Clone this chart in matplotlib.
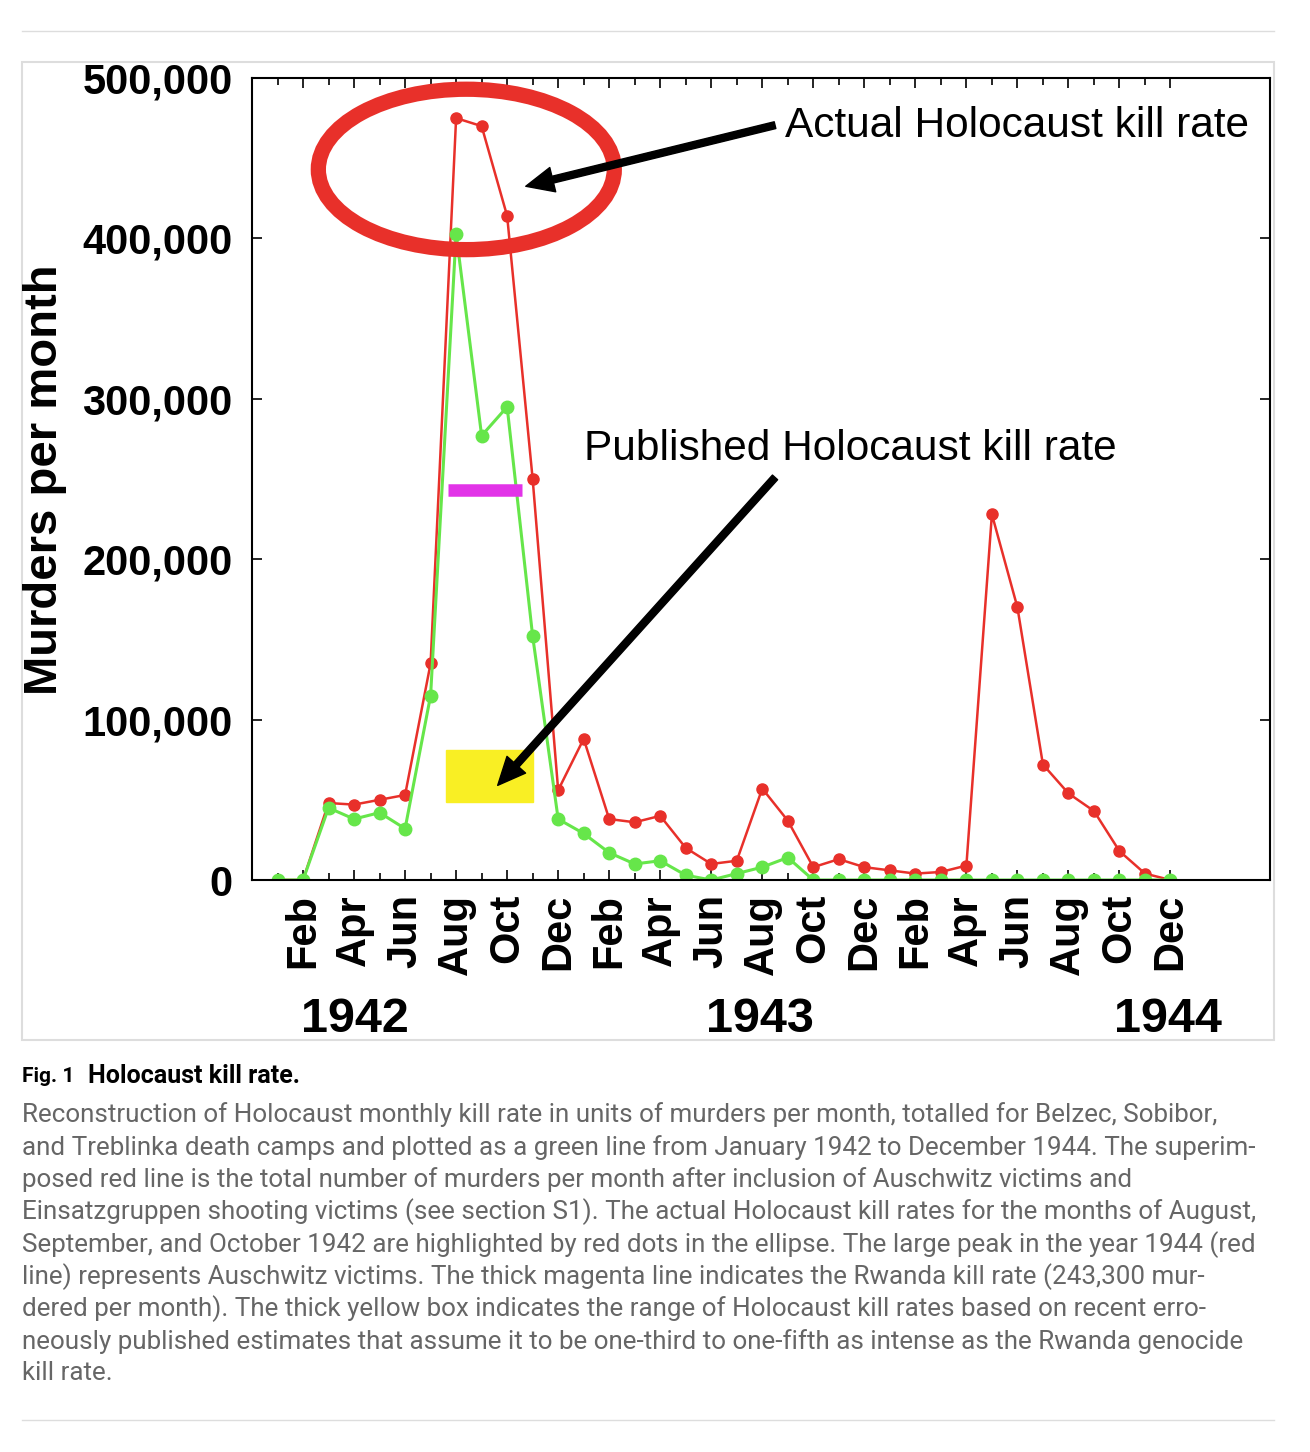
import matplotlib
matplotlib.use("Agg")
import matplotlib.pyplot as plt
from matplotlib.patches import Ellipse, Rectangle
import numpy as np

months = list(range(36))
green = [0,0,45000,38000,42000,32000,115000,403000,277000,295000,152000,38000,
         29000,17000,10000,12000,3000,0,4000,8000,14000,0,0,0,
         0,0,0,0,0,0,0,0,0,0,0,0]
red = [0,0,48000,47000,50000,53000,135000,475000,470000,414000,250000,56000,
       88000,38000,36000,40000,20000,10000,12000,57000,37000,8000,13000,8000,
       6000,4000,5000,9000,228000,170000,72000,54000,43000,18000,4000,0]
tick_idx = list(range(1,36,2))
tick_labels = ["Feb","Apr","Jun","Aug","Oct","Dec"]*3
years = ["1942","1943","1944"]
rwanda = 243300
yellow_low, yellow_high = 48700, 81100
yticks = [0,100000,200000,300000,400000,500000]

W,H = 1310,1452
fig = plt.figure(figsize=(W/100,H/100), dpi=100)
def fx(px): return px/W
def fy(py): return 1-py/H

fig.add_artist(plt.Line2D([fx(22),fx(1274)],[fy(31),fy(31)],color="#dddddd",lw=1))
fig.add_artist(plt.Line2D([fx(22),fx(1274)],[fy(1420),fy(1420)],color="#dddddd",lw=1))
fig.add_artist(Rectangle((fx(22),fy(1040)),fx(1252),(1040-62)/H,fill=False,ec="#dddddd",lw=1.5,transform=fig.transFigure))

ax = fig.add_axes([fx(252),fy(880),fx(1270-252),(880-78)/H])
cf = "Liberation Sans"
ax.plot(months, red, color="#e8302a", marker="o", ms=8, lw=1.8)
ax.plot(months, green, color="#66e64a", marker="o", ms=9, lw=2.2)
ax.plot([6.7,9.6],[rwanda,rwanda],color="#e233e8",lw=9,solid_capstyle="butt")
ax.add_patch(Rectangle((6.6,yellow_low),3.4,yellow_high-yellow_low,color="#f9ef24",zorder=1))
ax.add_patch(Ellipse((7.4,443000),11.6,100000,fill=False,ec="#e8302a",lw=11,zorder=5))
ax.set_xlim(-1,38.9); ax.set_ylim(0,500000)
ax.set_xticks(tick_idx)
ax.set_xticklabels(tick_labels,rotation=90,fontsize=30,fontweight="bold",family=cf)
ax.set_xticks(months,minor=True)
ax.set_yticks(yticks)
ax.set_yticklabels([f"{v:,}" for v in yticks],fontsize=30,fontweight="bold",family=cf)
ax.tick_params(direction="in",top=True,right=True,length=7,width=1.2,which="both")
ax.tick_params(axis="y",pad=14)
ax.tick_params(axis="x",pad=10)
ax.tick_params(which="minor",length=5)
for s in ax.spines.values(): s.set_linewidth(1.5)
fig.text(fx(45),fy(480),"Murders per month",fontsize=34,fontweight="bold",family=cf,
         rotation=90,ha="center",va="center")

ax.annotate("",xy=(9.73,432500),xytext=(19.5,470600),
            arrowprops=dict(facecolor="black",edgecolor="black",width=5,headwidth=18,headlength=20),zorder=6)
ax.annotate("",xy=(8.63,59000),xytext=(19.5,251000),
            arrowprops=dict(facecolor="black",edgecolor="black",width=5,headwidth=18,headlength=20))
ax.text(19.9,470000,"Actual Holocaust kill rate",fontsize=30.5,family=cf,va="center")
ax.text(12.0,269000,"Published Holocaust kill rate",fontsize=30.5,family=cf,va="center")

for yr,px in zip(years,[355,760,1168]):
    fig.text(fx(px),fy(1020),yr,fontsize=35,fontweight="bold",family=cf,ha="center",va="center")

fig.text(fx(22),fy(1077),"Fig. 1",fontsize=15,fontweight="bold",family="Roboto",va="center")
fig.text(fx(88),fy(1076),"Holocaust kill rate.",fontsize=18,fontweight="bold",family="Roboto",va="center")
lines = [
"Reconstruction of Holocaust monthly kill rate in units of murders per month, totalled for Belzec, Sobibor,",
"and Treblinka death camps and plotted as a green line from January 1942 to December 1944. The superim-",
"posed red line is the total number of murders per month after inclusion of Auschwitz victims and",
"Einsatzgruppen shooting victims (see section S1). The actual Holocaust kill rates for the months of August,",
"September, and October 1942 are highlighted by red dots in the ellipse. The large peak in the year 1944 (red",
"line) represents Auschwitz victims. The thick magenta line indicates the Rwanda kill rate (243,300 mur-",
"dered per month). The thick yellow box indicates the range of Holocaust kill rates based on recent erro-",
"neously published estimates that assume it to be one-third to one-fifth as intense as the Rwanda genocide",
"kill rate.",
]
for i,l in enumerate(lines):
    fig.text(fx(22),fy(1115+32.3*i),l,fontsize=18.7,family="Roboto",color="#666666",va="center")

fig.savefig("out.png",dpi=100)
